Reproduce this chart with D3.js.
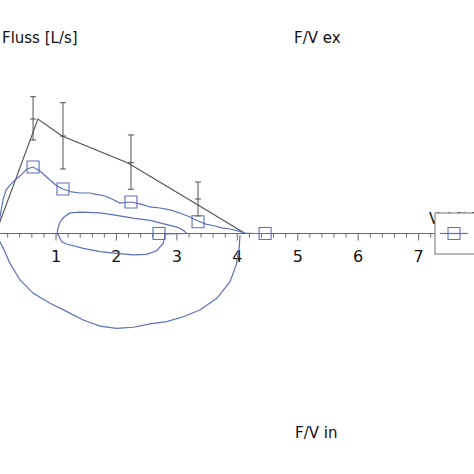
<!DOCTYPE html>
<html>
<head>
<meta charset="utf-8">
<script src="https://cdn.jsdelivr.net/npm/d3@7"></script>
<style>
  html, body { margin: 0; padding: 0; background: #fff; }
  text { font-family: "DejaVu Sans", Verdana, sans-serif; }
</style>
</head>
<body>
<div class="canvas"></div>
<script>
// predicted curve (volume L, flow L/s)
const predVol  = [0, 0.70, 1.10, 2.19, 3.35, 4.13];
const predFlow = [0, 7.63, 6.50, 4.70, 1.90, 0];

// error bars of the predicted values
const barVol  = [0.62, 1.115, 2.24, 3.35];
const barLow  = [6.23, 4.30, 2.95, 1.17];
const barMid  = [7.63, 6.50, 4.72, 2.30];
const barHigh = [9.12, 8.72, 6.57, 3.43];

// measured loop, expiration part
const expVol  = [0, 0.04, 0.073, 0.122, 0.172, 0.238, 0.321, 0.404, 0.52, 0.619, 0.735, 0.90, 1.016, 1.115, 1.26, 1.397, 1.56, 1.645, 1.81, 1.926, 2.059, 2.24, 2.39, 2.555, 2.72, 2.886, 3.05, 3.217, 3.35, 3.48, 3.63, 3.746, 3.88, 4.01, 4.127, 4.29, 4.458];
const expFlow = [0, 0.5, 1.1, 2.23, 2.9, 3.23, 3.57, 3.83, 4.3, 4.43, 4.17, 3.57, 3.17, 2.97, 2.77, 2.7, 2.7, 2.63, 2.5, 2.3, 2.03, 2.1, 1.97, 1.77, 1.7, 1.57, 1.37, 1.1, 0.83, 0.63, 0.5, 0.37, 0.3, 0.17, 0.03, 0, 0];

// measured loop, inspiration part
const inspVol  = [4.044, 4.033, 3.99, 3.88, 3.66, 3.38, 3.106, 2.83, 2.555, 2.28, 2.0, 1.73, 1.45, 1.18, 0.90, 0.624, 0.404, 0.238, 0.127, 0];
const inspFlow = [-0.1, -0.88, -1.99, -3.21, -4.32, -5.1, -5.55, -5.88, -6.03, -6.25, -6.32, -6.17, -5.77, -5.21, -4.65, -3.99, -3.1, -1.99, -0.99, 0];

// second (small) loop
const loopVol  = [1.016, 1.033, 1.066, 1.132, 1.231, 1.397, 1.728, 1.976, 2.274, 2.555, 2.803, 3.0, 3.1, 3.167, 2.82, 2.803, 2.775, 2.666, 2.5, 2.279, 2.0, 1.728, 1.45, 1.177, 1.094, 1.038, 1.016];
const loopFlow = [-0.03, 0.37, 0.77, 1.1, 1.37, 1.43, 1.37, 1.23, 1.03, 0.87, 0.63, 0.43, 0.23, 0, -0.03, -0.1, -0.65, -1.15, -1.39, -1.43, -1.32, -1.21, -0.99, -0.7, -0.55, -0.1, -0.03];

// square markers
const markVol  = [0.62, 1.115, 2.24, 3.35, 4.46, 2.704];
const markFlow = [4.43, 2.97, 2.1, 0.78, 0, 0];

const xTicks = [1, 2, 3, 4, 5, 6, 7];

const W = 474, H = 474;
const blue = '#5d70b8';
const grey = '#505050';

const svg = d3.select('.canvas')
  .append('svg')
  .attr('width', W)
  .attr('height', H);

// 60.43 px per litre, 15 px per L/s
const x = d3.scaleLinear().domain([0, 7.3]).range([-4.4, -4.4 + 7.3 * 60.43]);
const y = d3.scaleLinear().domain([-13, 13]).range([233.5 + 195, 233.5 - 195]);

const line = d3.line().x(d => x(d[0])).y(d => y(d[1]));
const zip = (a, b) => a.map((v, i) => [v, b[i]]);

// volume axis, minor ticks every 0.2 L
const minor = d3.range(0.2, 7.3, 0.2).filter(v => Math.abs(v - Math.round(v)) > 0.01);
const axisG = svg.append('g').attr('transform', `translate(0, ${y(0)})`);
axisG.append('line')
  .attr('x1', 0).attr('x2', x(7.3))
  .attr('stroke', '#6a6a6a').attr('stroke-width', 1.2);
axisG.selectAll('.minor')
  .data(minor)
  .enter().append('line')
    .attr('x1', d => x(d)).attr('x2', d => x(d))
    .attr('y1', 0).attr('y2', 4)
    .attr('stroke', '#6a6a6a');
axisG.selectAll('.major')
  .data(xTicks)
  .enter().append('line')
    .attr('x1', d => x(d)).attr('x2', d => x(d))
    .attr('y1', 0).attr('y2', 7)
    .attr('stroke', '#6a6a6a');
axisG.selectAll('.lab')
  .data(xTicks)
  .enter().append('text')
    .attr('x', d => x(d))
    .attr('y', 28)
    .attr('text-anchor', 'middle')
    .style('font-size', '16px')
    .attr('fill', '#111')
    .text(d => d);

// axis title, mostly hidden behind the legend (as in the original)
svg.append('text').attr('x', 429).attr('y', 224)
  .style('font-size', '15px').attr('fill', '#111').text('Vol [L]');

// predicted line
svg.append('path')
  .attr('d', line(zip(predVol, predFlow)))
  .attr('fill', 'none')
  .attr('stroke', grey)
  .attr('stroke-width', 1.1);

// error bars
const bars = svg.selectAll('.bar')
  .data(barVol.map((v, i) => ({ v, lo: barLow[i], mid: barMid[i], hi: barHigh[i] })))
  .enter().append('g');
bars.append('line')
  .attr('x1', d => x(d.v)).attr('x2', d => x(d.v))
  .attr('y1', d => y(d.lo)).attr('y2', d => y(d.hi))
  .attr('stroke', grey);
['lo', 'mid', 'hi'].forEach(k => {
  bars.append('line')
    .attr('x1', d => x(d.v) - 3).attr('x2', d => x(d.v) + 3)
    .attr('y1', d => y(d[k])).attr('y2', d => y(d[k]))
    .attr('stroke', grey);
});

// measured curves
[zip(expVol, expFlow), zip(inspVol, inspFlow), zip(loopVol, loopFlow)].forEach(pts => {
  svg.append('path')
    .attr('d', line(pts))
    .attr('fill', 'none')
    .attr('stroke', blue)
    .attr('stroke-width', 1.2);
});

// square markers
const sq = d3.symbol().type(d3.symbolSquare).size(144);
svg.selectAll('.mark')
  .data(zip(markVol, markFlow))
  .enter().append('path')
    .attr('d', sq)
    .attr('transform', d => `translate(${x(d[0])}, ${y(d[1])})`)
    .attr('fill', 'none')
    .attr('stroke', blue)
    .attr('stroke-width', 1.1);

// titles
svg.append('text').attr('x', 2).attr('y', 43)
  .style('font-size', '15px').attr('fill', '#111').text('Fluss [L/s]');
svg.append('text').attr('x', 294).attr('y', 43)
  .style('font-size', '15px').attr('fill', '#111').text('F/V ex');
svg.append('text').attr('x', 295).attr('y', 438)
  .style('font-size', '15px').attr('fill', '#111').text('F/V in');

// legend box
const legendGroup = svg.append('g').attr('transform', 'translate(435, 213)');
legendGroup.append('rect')
  .attr('width', 60).attr('height', 41)
  .attr('fill', '#fff')
  .attr('stroke', '#8a8a8a')
  .attr('stroke-width', 1.2);
legendGroup.append('line')
  .attr('x1', 5).attr('x2', 33).attr('y1', 20.5).attr('y2', 20.5)
  .attr('stroke', blue).attr('stroke-width', 1.2);
legendGroup.append('path')
  .attr('d', sq)
  .attr('transform', 'translate(19, 20.5)')
  .attr('fill', 'none')
  .attr('stroke', blue)
  .attr('stroke-width', 1.1);
</script>
</body>
</html>
